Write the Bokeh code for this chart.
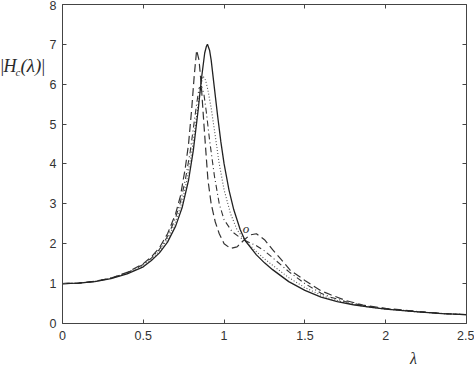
from bokeh.plotting import figure
from bokeh.models import Range1d, LinearAxis, Label, FixedTicker
from bokeh.embed import file_html
from bokeh.resources import INLINE

# ---- data ----
solid_x = [0, 0.1, 0.2, 0.3, 0.4, 0.5, 0.55, 0.6, 0.65, 0.7, 0.74, 0.78, 0.81, 0.84, 0.86, 0.88,
           0.89, 0.897, 0.91, 0.92, 0.94, 0.96, 0.98, 1.0, 1.03, 1.06, 1.1, 1.13, 1.2, 1.25, 1.3,
           1.4, 1.5, 1.6, 1.7, 1.8, 1.9, 2.0, 2.2, 2.35, 2.5]
solid_y = [1.0, 1.012, 1.052, 1.125, 1.246, 1.42, 1.58, 1.77, 2.04, 2.44, 2.9, 3.59, 4.35, 5.37, 6.14, 6.78,
           6.94, 7.0, 6.85, 6.6, 5.9, 5.2, 4.55, 4.0, 3.35, 2.85, 2.35, 2.08, 1.72, 1.52, 1.35,
           1.05, 0.83, 0.66, 0.55, 0.47, 0.41, 0.36, 0.29, 0.25, 0.22]

dash_x = [0, 0.1, 0.2, 0.3, 0.4, 0.5, 0.55, 0.6, 0.65, 0.7, 0.73, 0.76, 0.78, 0.8, 0.815, 0.83,
          0.845, 0.86, 0.875, 0.89, 0.9, 0.92, 0.945, 0.97, 1.0, 1.04, 1.08, 1.12, 1.16, 1.2, 1.25,
          1.3, 1.35, 1.41, 1.5, 1.6, 1.66, 1.75, 1.86, 2.0, 2.2, 2.35, 2.5]
dash_y = [1.0, 1.012, 1.06, 1.14, 1.28, 1.5, 1.67, 1.9, 2.25, 2.75, 3.2, 3.9, 4.5, 5.4, 6.2, 6.85,
          6.6, 5.9, 5.0, 4.15, 3.6, 3.0, 2.55, 2.25, 2.0, 1.88, 1.92, 2.08, 2.22, 2.25, 2.1,
          1.85, 1.62, 1.33, 1.08, 0.82, 0.72, 0.58, 0.46, 0.38, 0.3, 0.25, 0.22]

dashdot_x = [0, 0.1, 0.2, 0.3, 0.4, 0.5, 0.55, 0.6, 0.65, 0.7, 0.73, 0.76, 0.79, 0.81, 0.83, 0.845,
             0.86, 0.875, 0.89, 0.91, 0.94, 0.97, 1.0, 1.05, 1.1, 1.13, 1.2, 1.25, 1.3, 1.4, 1.5,
             1.6, 1.66, 1.75, 1.86, 2.0, 2.2, 2.35, 2.5]
dashdot_y = [1.0, 1.012, 1.055, 1.135, 1.27, 1.48, 1.64, 1.86, 2.18, 2.65, 3.05, 3.6, 4.3, 4.9, 5.5, 5.9,
             5.95, 5.75, 5.3, 4.6, 3.7, 3.0, 2.6, 2.3, 2.15, 2.08, 1.95, 1.82, 1.65, 1.3, 1.0,
             0.76, 0.66, 0.55, 0.45, 0.37, 0.3, 0.25, 0.22]

dot_x = [0, 0.1, 0.2, 0.3, 0.4, 0.5, 0.55, 0.6, 0.65, 0.7, 0.74, 0.77, 0.8, 0.82, 0.84, 0.855,
         0.87, 0.885, 0.9, 0.92, 0.94, 0.97, 1.0, 1.04, 1.08, 1.13, 1.2, 1.25, 1.3, 1.4, 1.5,
         1.6, 1.66, 1.75, 1.86, 2.0, 2.2, 2.35, 2.5]
dot_y = [1.0, 1.012, 1.053, 1.13, 1.26, 1.46, 1.62, 1.82, 2.12, 2.55, 3.05, 3.6, 4.3, 4.9, 5.5, 5.95,
         6.2, 6.1, 5.85, 5.4, 4.85, 4.0, 3.35, 2.75, 2.35, 2.08, 1.8, 1.62, 1.46, 1.15, 0.9,
         0.71, 0.62, 0.52, 0.43, 0.36, 0.29, 0.25, 0.22]

x_ticks = [0, 0.5, 1, 1.5, 2, 2.5]
x_tick_labels = ["0", "0.5", "1", "1.5", "2", "2.5"]
y_ticks = [0, 1, 2, 3, 4, 5, 6, 7, 8]

point_o = (1.13, 2.08)

# ---- layout geometry (pixels) ----
W, H = 474, 387
LEFT, BOTTOM = 62, 323          # pixel position of data origin
PX_X, PX_Y = 161.6, 39.9        # pixels per data unit

x0 = -LEFT / PX_X
x1 = x0 + W / PX_X
y1 = BOTTOM / PX_Y
y0 = y1 - H / PX_Y

def dx(px):
    return (px - LEFT) / PX_X

def dy(py):
    return (BOTTOM - py) / PX_Y

p = figure(width=W, height=H, output_backend="svg", toolbar_location=None,
           x_range=Range1d(x0, x1), y_range=Range1d(y0, y1),
           x_axis_location=None, y_axis_location=None,
           min_border=0, min_border_left=0, min_border_right=0,
           min_border_top=0, min_border_bottom=0)
p.grid.visible = False
p.background_fill_color = "white"
p.border_fill_color = "white"
p.outline_line_color = None

axis_color = "#444444"
label_color = "#333333"

def make_axis(ticks, loc, bounds, labels=None):
    ax = LinearAxis(ticker=FixedTicker(ticks=ticks), fixed_location=loc, bounds=bounds,
                    axis_line_color=axis_color, major_tick_line_color=axis_color,
                    major_tick_in=4, major_tick_out=0, minor_tick_line_color=None,
                    major_label_text_font="Liberation Sans",
                    major_label_text_font_size="12.5px",
                    major_label_text_color=label_color)
    if labels is None:
        ax.major_label_text_font_size = "0px"
        ax.major_label_text_alpha = 0
    else:
        ax.major_label_overrides = labels
    return ax

bottom_ax = make_axis(x_ticks, 0, (0, 2.5), {t: l for t, l in zip(x_ticks, x_tick_labels)})
bottom_ax.major_label_standoff = 7
left_ax = make_axis(y_ticks, 0, (0, 8), {t: str(t) for t in y_ticks})
left_ax.major_label_standoff = 6
top_ax = make_axis(x_ticks, 8, (0, 2.5))
right_ax = make_axis(y_ticks, 2.5, (0, 8))
p.add_layout(bottom_ax, "below")
p.add_layout(left_ax, "left")
p.add_layout(top_ax, "above")
p.add_layout(right_ax, "right")

# ---- curves ----
p.line(dot_x, dot_y, line_color="#555555", line_width=1.1, line_dash="1 2")
p.line(dashdot_x, dashdot_y, line_color="#333333", line_width=1.1, line_dash="6 3 1 3")
p.line(dash_x, dash_y, line_color="#333333", line_width=1.2, line_dash="8 4")
p.line(solid_x, solid_y, line_color="#222222", line_width=1.3)

# ---- labels ----
serif = "Liberation Serif"

def add_label(x, y, text, size, align="left", baseline="middle", italic=True):
    p.add_layout(Label(x=x, y=y, text=text, text_font=serif,
                       text_font_style="italic" if italic else "normal",
                       text_font_size=size, text_color="#2a2a2a", text_align=align,
                       text_baseline=baseline))

add_label(point_o[0] + 0.005, point_o[1] + 0.12, "o", "13px", "center", "bottom")
add_label(dx(413), dy(358), "λ", "16px", "center")
add_label(dx(0), dy(65), "|", "18px", italic=False)
add_label(dx(3), dy(65), "H", "18px")
add_label(dx(15), dy(71), "c", "11px")
add_label(dx(20), dy(65), "(λ)", "19px")
add_label(dx(41), dy(65), "|", "18px", italic=False)

open("out.html", "w").write(file_html(p, INLINE))
